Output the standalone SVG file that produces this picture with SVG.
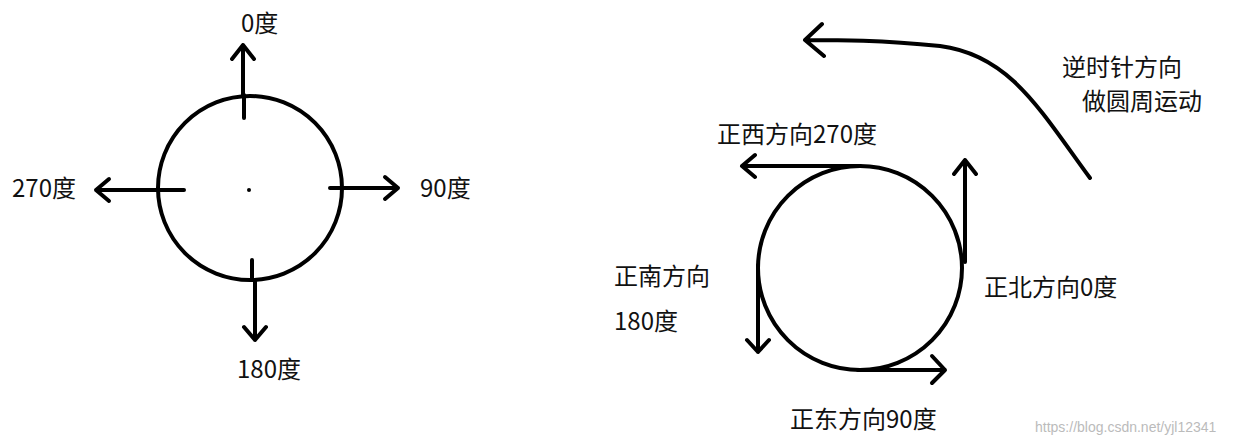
<svg xmlns="http://www.w3.org/2000/svg" width="1250" height="445" viewBox="0 0 1250 445">
<style>
.l{fill:none;stroke:#000;stroke-width:4;stroke-linecap:round;stroke-linejoin:round}
.t{font-family:"Microsoft YaHei","Noto Sans CJK SC",sans-serif;font-size:24px;fill:#111}
</style>
<rect width="1250" height="445" fill="#fff"/>
<g id="circle-left"><circle class="l" cx="250" cy="188" r="92"/>
<path class="l" d="M244,95V118M158,190H184M330,188H345M252,260V278"/><circle cx="249" cy="190" r="2"/></g>
<g id="circle-right"><circle class="l" cx="860" cy="268" r="102"/></g>
<g id="connectors">
<path class="l" d="M243,95V45M232,59L243,45L254,59"/>
<path class="l" d="M345,188H398M385,177L398,188L385,199"/>
<path class="l" d="M158,190H96M109,179L96,190L109,201"/>
<path class="l" d="M255,280V340M244,327L255,340L266,327"/>
<path class="l" d="M860,166H742M755,155L742,166L755,177"/>
<path class="l" d="M965,262V160M954,174L965,160L976,174"/>
<path class="l" d="M758,265V352M747,340L758,352L769,340"/>
<path class="l" d="M858,370H945M932,356L945,370L932,383"/>
<path class="l" d="M1090,178C1040,110 1010,55 940,46C880,40 840,40 805,40M822,24L805,40L824,56"/>
</g>
<g id="labels">
<text class="t" x="241" y="32">0度</text>
<text class="t" x="420" y="197">90度</text>
<text class="t" x="12" y="197">270度</text>
<text class="t" x="237" y="378">180度</text>
<text class="t" x="1062" y="76">逆时针方向</text>
<text class="t" x="1082" y="110">做圆周运动</text>
<text class="t" x="717" y="143">正西方向270度</text>
<text class="t" x="614" y="285">正南方向</text>
<text class="t" x="614" y="330">180度</text>
<text class="t" x="984" y="296">正北方向0度</text>
<text class="t" x="790" y="428">正东方向90度</text>
<text x="1035" y="432" font-family="Liberation Sans,sans-serif" font-size="14" fill="#bbb">https://blog.csdn.net/yjl12341</text>
</g>
</svg>
